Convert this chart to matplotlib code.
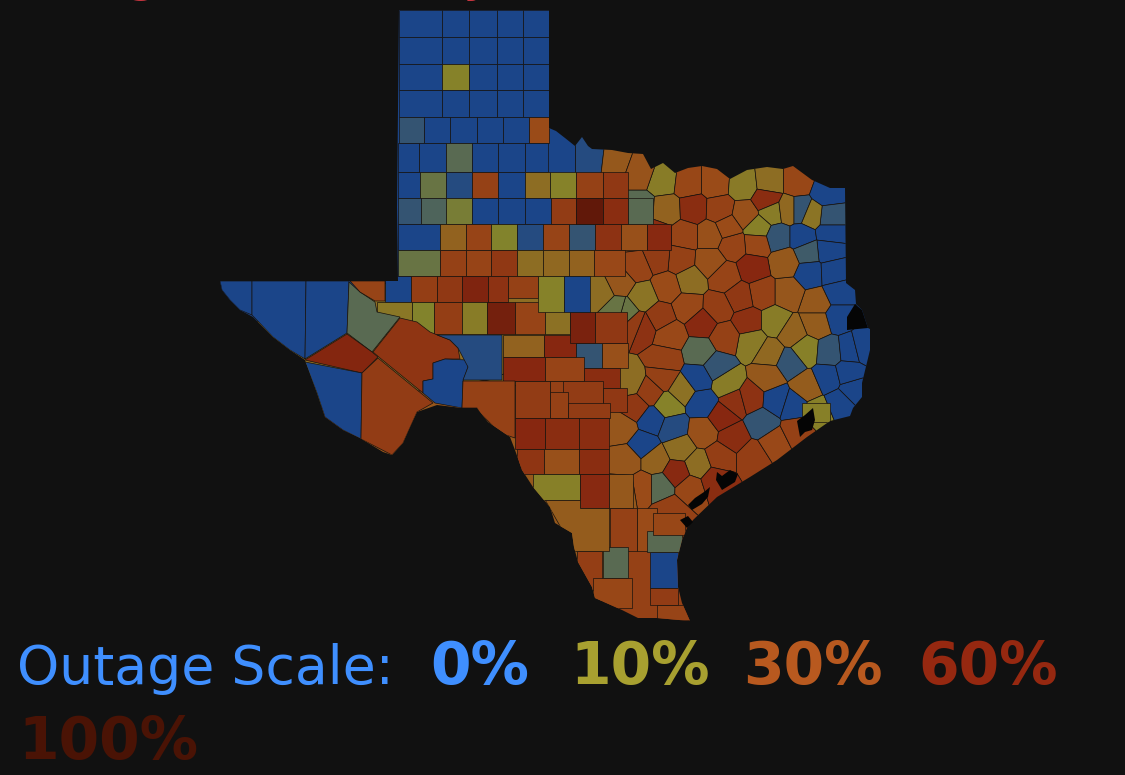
import numpy as np
import matplotlib
matplotlib.use('Agg')
import matplotlib.pyplot as plt
from matplotlib.colors import LinearSegmentedColormap
from matplotlib.patches import Polygon

# map coordinates follow the picture, x to the right and y downwards
state_outline = [(399, 10), (549, 10), (549, 128), (556, 131), (565, 138), (575, 146), (582, 137), (588, 146),
                 (592, 149), (612, 150), (628, 153), (643, 154), (651, 169), (663, 163), (675, 173), (688, 168),
                 (702, 166), (717, 169), (730, 179), (747, 170), (767, 167), (783, 169), (793, 166), (812, 180),
                 (830, 188), (845, 188), (846, 283), (855, 290), (856, 304), (862, 310), (868, 328), (870, 329),
                 (870, 350), (862, 383), (862, 397), (853, 408), (850, 416), (830, 421), (807, 437), (777, 460),
                 (750, 477), (717, 497), (693, 520), (687, 528), (682, 540), (677, 560), (678, 587), (682, 603),
                 (690, 621), (657, 618), (638, 618), (622, 610), (595, 598), (592, 587), (578, 562), (574, 547),
                 (572, 533), (555, 523), (550, 507), (543, 499), (533, 487), (522, 470), (515, 450), (510, 437),
                 (488, 422), (477, 408), (462, 408), (437, 405), (417, 412), (410, 427), (403, 443), (392, 455),
                 (383, 452), (360, 438), (343, 430), (325, 417), (317, 393), (305, 360), (290, 350), (273, 337),
                 (253, 317), (240, 310), (230, 300), (222, 290), (220, 281), (398, 281), (397, 207)]

# eastern counties: rough county centres and outage percent
county_x = [561, 590, 615, 663, 688, 715, 743, 770, 797, 827, 830, 640, 667, 693, 720, 745, 767, 772, 788, 800,
            812, 758, 778, 802, 830, 828, 808, 810, 833, 838, 838, 817, 788, 785, 757, 733, 728, 710, 685, 658,
            633, 680, 710, 658, 637, 753, 725, 762, 690, 667, 643, 740, 688, 660, 718, 702, 748, 775, 817, 792,
            805, 830, 850, 862, 752, 770, 790, 725, 700, 670, 642, 625, 665, 620, 600, 618, 637, 630, 650, 663,
            682, 668, 635, 652, 702, 643, 673, 622, 627, 655, 680, 703, 698, 723, 735, 750, 727, 733, 717, 698,
            762, 720, 753, 775, 777, 793, 768, 807, 818, 797, 840, 828, 853, 848, 677, 660, 690, 715, 670, 643,
            625, 640]
county_y = [160, 160, 163, 180, 183, 183, 185, 182, 182, 193, 217, 208, 210, 209, 210, 215, 200, 212, 210, 210,
            215, 228, 237, 237, 233, 250, 252, 273, 272, 293, 317, 303, 293, 262, 243, 245, 227, 235, 235, 235,
            235, 260, 262, 258, 267, 268, 277, 293, 280, 287, 297, 297, 307, 317, 308, 323, 322, 322, 323, 333,
            350, 352, 350, 347, 342, 353, 362, 337, 352, 335, 327, 312, 360, 282, 292, 310, 325, 382, 392, 378,
            390, 405, 407, 420, 403, 445, 428, 428, 460, 460, 448, 432, 465, 417, 402, 398, 383, 437, 367, 378,
            423, 457, 457, 443, 400, 405, 377, 387, 412, 432, 403, 378, 390, 373, 473, 487, 488, 480, 510, 487,
            490, 172]
county_pct = [2, 3, 25, 13, 33, 30, 14, 18, 33, 1, 4, 7, 22, 55, 38, 28, 55, 13, 20, 4,
              16, 12, 4, 1, 2, 1, 5, 1, 1, 2, 2, 25, 26, 25, 32, 35, 30, 28, 35, 55,
              30, 38, 28, 42, 35, 60, 35, 38, 18, 30, 16, 45, 32, 42, 40, 58, 52, 13, 24, 22,
              12, 4, 1, 1, 14, 20, 4, 38, 7, 32, 50, 8, 38, 26, 18, 8, 42, 18, 40, 38,
              17, 11, 45, 1, 2, 1, 3, 26, 26, 22, 18, 28, 18, 60, 50, 50, 13, 55, 4, 1,
              4, 40, 40, 32, 2, 2, 25, 24, 12, 38, 2, 2, 1, 1, 58, 7, 33, 55, 38, 30,
              25, 27]

# panhandle and the square counties further south, one row per entry
row_top = [10, 37, 64, 90, 117, 143, 172, 198, 224, 250, 276, 302, 172, 198, 335, 343, 312, 357, 368, 381,
           381, 388, 392, 403, 418, 449, 474, 474, 508, 551, 547, 552, 531, 578, 588, 605, 513, 276, 276, 403]
row_bottom = [37, 64, 90, 117, 143, 172, 198, 224, 250, 276, 302, 334, 198, 224, 357, 368, 343, 381, 388, 418,
              405, 412, 418, 418, 449, 474, 500, 508, 551, 590, 578, 588, 552, 608, 605, 620, 535, 298, 312, 422]
row_edges = [[399, 442, 469, 497, 523, 549],
             [399, 442, 469, 497, 523, 549],
             [399, 442, 469, 497, 523, 549],
             [399, 442, 469, 497, 523, 549],
             [399, 424, 450, 477, 503, 529, 549],
             [398, 419, 446, 472, 498, 525, 548],
             [398, 420, 446, 472, 498, 525, 550],
             [398, 421, 446, 472, 498, 525, 551],
             [398, 440, 466, 491, 517, 543, 569, 595, 621, 647, 671],
             [398, 440, 466, 491, 517, 543, 569, 594, 625],
             [385, 411, 437, 462, 488, 508],
             [377, 412, 434, 462, 487, 515, 545, 570],
             [550, 576, 603, 628],
             [551, 576, 603, 628, 653],
             [503, 544, 576],
             [576, 602, 628],
             [570, 595, 627],
             [503, 545, 584],
             [584, 620],
             [515, 550, 568],
             [563, 603],
             [603, 627],
             [550, 568],
             [568, 610],
             [515, 545, 579, 609],
             [517, 544, 579, 609],
             [533, 580],
             [580, 609, 633],
             [610, 637, 657],
             [577, 602],
             [603, 628],
             [650, 678],
             [647, 682],
             [593, 632],
             [650, 678],
             [657, 690],
             [653, 685],
             [508, 538],
             [538, 564, 590],
             [802, 830]]
row_pct = [[1, 1, 1, 1, 1],
           [1, 2, 1, 1, 1],
           [1, 11, 1, 1, 1],
           [1, 2, 1, 1, 1],
           [4, 1, 1, 1, 1, 30],
           [1, 1, 7, 1, 1, 1],
           [1, 8, 3, 38, 1, 18],
           [4, 6, 9, 1, 1, 1],
           [1, 22, 35, 10, 3, 35, 4, 50, 28, 58],
           [8, 38, 35, 45, 18, 20, 22, 32],
           [1, 40, 45, 65, 50],
           [15, 10, 40, 13, 72, 35, 17],
           [11, 38, 45],
           [42, 85, 55, 7],
           [22, 60],
           [4, 28],
           [68, 45],
           [60, 35],
           [55],
           [42, 38],
           [42],
           [45],
           [38],
           [42],
           [60, 55, 55],
           [48, 28, 55],
           [12],
           [58, 25],
           [38, 30],
           [40],
           [7],
           [1],
           [7],
           [33],
           [42],
           [35],
           [33],
           [38],
           [11, 1],
           [12]]

# large western counties
west_pct = [1, 1, 2, 7, 62, 1, 42, 48, 1, 3, 38, 35, 24]
west_shapes = [[(220, 281), (252, 281), (252, 315), (240, 310), (230, 300), (222, 290)],
               [(252, 281), (306, 281), (305, 359), (290, 350), (273, 337), (252, 315)],
               [(306, 281), (349, 281), (347, 333), (305, 359)],
               [(349, 282), (360, 292), (375, 302), (377, 312), (400, 317), (372, 352), (347, 333)],
               [(305, 360), (347, 334), (372, 352), (378, 357), (362, 373)],
               [(305, 362), (362, 373), (361, 439), (343, 430), (325, 417), (317, 393)],
               [(362, 373), (378, 358), (433, 403), (417, 412), (403, 443), (392, 455), (361, 439)],
               [(400, 318), (417, 322), (430, 332), (450, 340), (458, 348), (460, 359), (445, 359), (433, 363),
                (433, 379), (423, 381), (423, 393), (380, 358), (373, 352)],
               [(433, 363), (445, 359), (467, 360), (468, 367), (463, 381), (462, 408), (435, 403), (423, 393),
                (423, 381), (433, 379)],
               [(437, 335), (502, 335), (502, 380), (463, 380), (468, 367), (458, 348), (450, 340)],
               [(463, 381), (515, 381), (515, 438), (500, 433), (480, 413), (477, 408), (462, 408)],
               [(350, 281), (385, 281), (385, 301), (375, 301), (360, 292)],
               [(545, 500), (580, 500), (580, 508), (609, 508), (609, 551), (574, 551)]]

# counties with no data and the bays along the coast
no_data_shapes = [[(847, 330), (847, 317), (855, 304), (862, 310), (868, 328)],
                  [(797, 421), (805, 415), (813, 408), (815, 420), (812, 430), (805, 432), (800, 437)],
                  [(717, 472), (722, 476), (730, 470), (738, 474), (735, 482), (722, 490), (716, 480)],
                  [(710, 487), (704, 492), (695, 498), (688, 505), (692, 510), (702, 504), (708, 497)],
                  [(680, 520), (688, 516), (693, 522), (687, 528)]]

scale_labels = ['0%', '10%', '30%', '60%', '100%']
scale_colors = ['#3f8fff', '#a8a030', '#b8591f', '#962810', '#4a1305']
scale_x = [430, 570, 743, 918, 18]
scale_y = [684, 684, 684, 684, 759]

bg = '#111111'
line = '#17120e'
outage_cmap = LinearSegmentedColormap.from_list('outage', [(0, '#1b4589'), (0.02, '#1b4589'), (0.1, '#85852a'),
                                                           (0.3, '#9a4a18'), (0.6, '#872710'), (1, '#4a0f05')])


def cell_polygon(i, xs, ys):
    # cut a big box down with the bisector against every other county centre
    poly = np.array([[150, 0], [950, 0], [950, 700], [150, 700]], dtype=float)
    p = np.array([xs[i], ys[i]], dtype=float)
    for j in range(len(xs)):
        if j == i:
            continue
        q = np.array([xs[j], ys[j]], dtype=float)
        if np.allclose(p, q):
            continue
        n = q - p
        c = n @ (p + q) / 2
        kept = []
        for k in range(len(poly)):
            a, b = poly[k], poly[(k + 1) % len(poly)]
            da, db = n @ a - c, n @ b - c
            if da <= 0:
                kept.append(a)
            if da * db < 0:
                kept.append(a + (b - a) * da / (da - db))
        poly = np.array(kept)
    return poly


fig = plt.figure(figsize=(11.25, 7.75), dpi=100, facecolor=bg)
ax = fig.add_axes([0, 0, 1, 1])
ax.set_xlim(0, 1125)
ax.set_ylim(775, 0)
ax.axis('off')

state = Polygon(state_outline, closed=True, facecolor='none', edgecolor='none')
ax.add_patch(state)

for i in range(len(county_x)):
    cell = Polygon(cell_polygon(i, county_x, county_y), closed=True, facecolor=outage_cmap(county_pct[i] / 100),
                   edgecolor=line, linewidth=0.5)
    ax.add_patch(cell)
    cell.set_clip_path(state)

for r in range(len(row_top)):
    for c in range(len(row_pct[r])):
        x0, x1 = row_edges[r][c], row_edges[r][c + 1]
        y0, y1 = row_top[r], row_bottom[r]
        box = Polygon([(x0, y0), (x1, y0), (x1, y1), (x0, y1)], closed=True,
                      facecolor=outage_cmap(row_pct[r][c] / 100), edgecolor=line, linewidth=0.5)
        ax.add_patch(box)
        box.set_clip_path(state)

for shape, pct in zip(west_shapes, west_pct):
    county = Polygon(shape, closed=True, facecolor=outage_cmap(pct / 100), edgecolor=line, linewidth=0.5)
    ax.add_patch(county)
    county.set_clip_path(state)

for shape in no_data_shapes:
    ax.add_patch(Polygon(shape, closed=True, facecolor='#050505', edgecolor='none'))

# only the descenders of the title are left at the top edge
ax.text(125, -11, 'g', color='#c8353f', fontsize=39.5, family='DejaVu Sans', va='baseline')
ax.text(462, -11, 'y', color='#c8353f', fontsize=39.5, family='DejaVu Sans', va='baseline')

ax.text(17, 684, 'Outage Scale:', color='#3f8fff', fontsize=38.6, family='DejaVu Sans', va='baseline')
for label, color, x, y in zip(scale_labels, scale_colors, scale_x, scale_y):
    ax.text(x, y, label, color=color, fontsize=42, family='DejaVu Sans', fontweight='bold', va='baseline')

fig.savefig('out.png', dpi=100, facecolor=bg)
